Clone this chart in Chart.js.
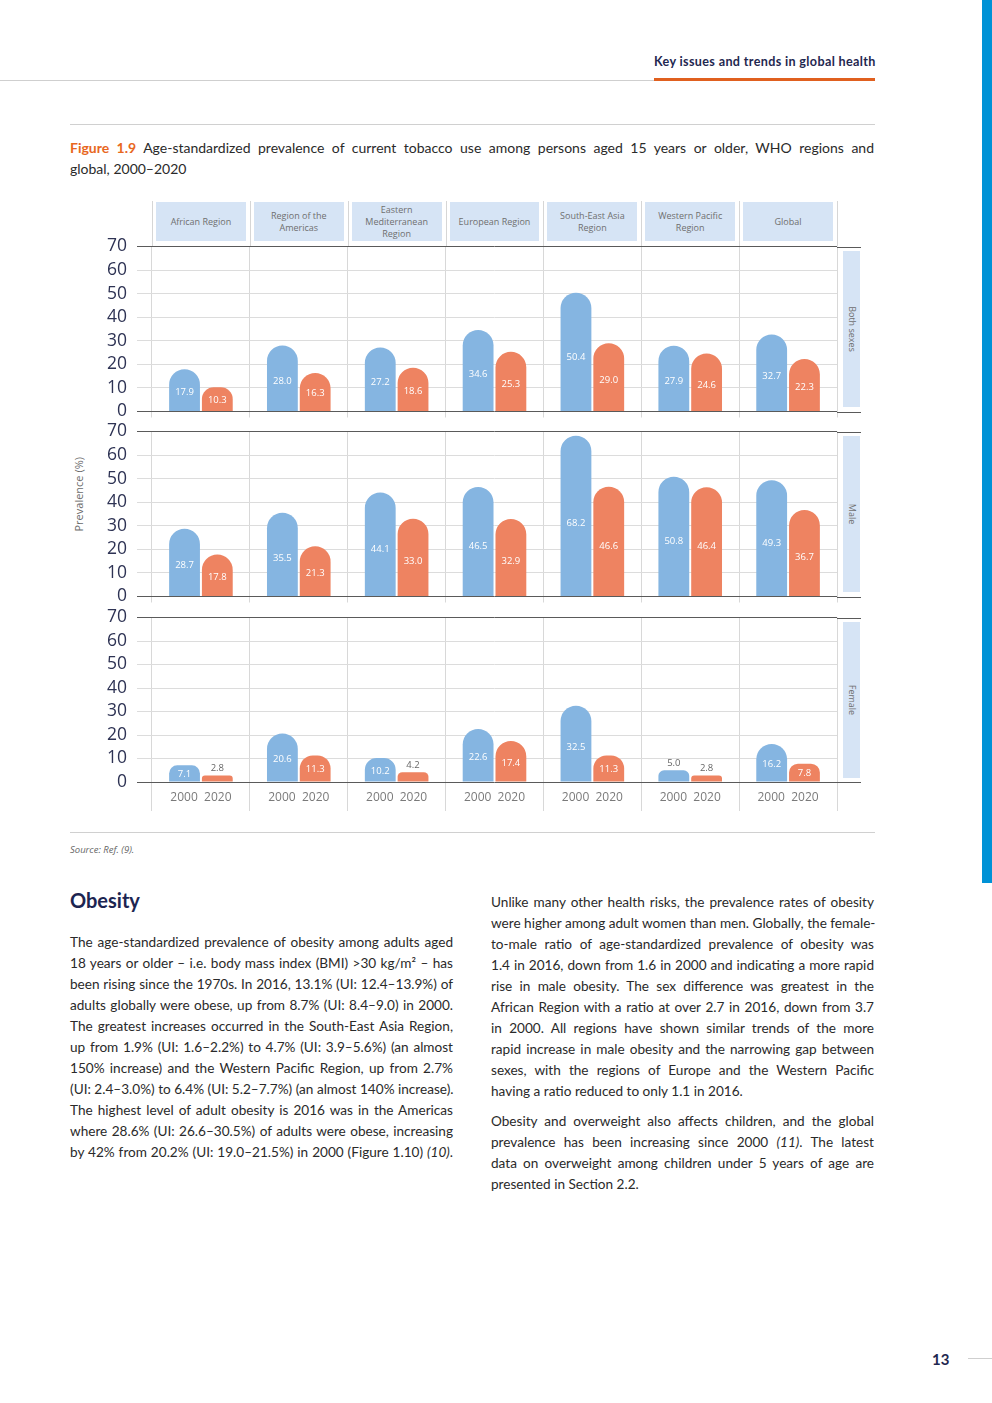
<!DOCTYPE html>
<html>
<head>
<meta charset="utf-8">
<script src="https://cdn.jsdelivr.net/npm/chart.js@4.4.1/dist/chart.umd.min.js"></script>
<style>
  body { margin: 0; background: #fff; }
  #page { position: relative; width: 992px; height: 1403px; overflow: hidden; font-family: Lato, "Open Sans", sans-serif; color: #2a2a2a; }
  .abs { position: absolute; }
  .ln { position: absolute; height: 21px; line-height: 21px; font-size: 13.6px; text-align: justify; text-align-last: justify; white-space: nowrap; }
  .ln.last { text-align-last: left; }
  .hdr { position: absolute; top: 202px; height: 39px; background: #d6e4f5; color: #6f6f6f; font: 9px "Open Sans", sans-serif; line-height: 12px; display: flex; align-items: center; justify-content: center; text-align: center; white-space: pre-line; }
  .vsep { position: absolute; top: 201px; height: 45px; width: 1px; background: #d6d6d6; }
  .strip { position: absolute; left: 843px; width: 17px; background: #d6e4f5; }
  .strip span { position: absolute; left: 50%; top: 50%; transform: translate(-50%, -50%) rotate(90deg); white-space: nowrap; font: 9px "Open Sans", sans-serif; color: #6f6f6f; }
  canvas { position: absolute; }
</style>
</head>
<body>
<div id="page">
  <div class="abs" style="right:0;top:0;width:10px;height:883px;background:#0092d6;"></div>
  <div class="abs" style="left:0;top:80px;width:654px;height:1px;background:#cfcfcf;"></div>
  <div class="abs" style="left:654px;top:54px;width:221px;font:bold 12.6px Lato, sans-serif;letter-spacing:0.35px;color:#1f2850;white-space:nowrap;">Key issues and trends in global health</div>
  <div class="abs" style="left:654px;top:78px;width:221px;height:3px;background:#e0601f;"></div>
  <div class="abs" style="left:70px;top:124px;width:805px;height:1px;background:#d0d0d0;"></div>

  <div class="ln" style="left:70px;top:137px;width:804px;font-size:14px;"><b style="color:#e8671e;">Figure 1.9</b> Age-standardized prevalence of current tobacco use among persons aged 15 years or older, WHO regions and</div>
  <div class="ln last" style="left:70px;top:158px;width:804px;font-size:14px;">global, 2000–2020</div>

  <div class="abs" style="left:48px;top:494px;width:60px;text-align:center;transform:rotate(-90deg);transform-origin:center;font:11px 'Open Sans', sans-serif;color:#6a6a6a;white-space:nowrap;">Prevalence (%)</div>

  <div id="figure"></div>

  <div class="abs" style="left:70px;top:832px;width:805px;height:1px;background:#d0d0d0;"></div>
  <div class="abs" style="left:70px;top:843px;font:italic 9.5px 'Open Sans', sans-serif;color:#666;">Source: Ref. (9).</div>

  <div class="abs" style="left:70px;top:888px;font:bold 20px Lato, sans-serif;color:#1c2551;">Obesity</div>
  <div id="textLeft"></div>
  <div id="textRight"></div>

  <div class="abs" style="left:932px;top:1350px;font:bold 15px Lato, sans-serif;color:#1f2850;">13</div>
  <div class="abs" style="left:968px;top:1358px;width:24px;height:1px;background:#cfcfcf;"></div>
</div>

<script>
// --- Données ---
const regions = ['African Region', 'Region of the\nAmericas', 'Eastern\nMediterranean\nRegion', 'European Region', 'South-East Asia\nRegion', 'Western Pacific\nRegion', 'Global'];
const years = ['2000', '2020'];
const panelNames = ['Both sexes', 'Male', 'Female'];

const bothSexes2000 = [17.9, 28.0, 27.2, 34.6, 50.4, 27.9, 32.7];
const bothSexes2020 = [10.3, 16.3, 18.6, 25.3, 29.0, 24.6, 22.3];
const male2000 = [28.7, 35.5, 44.1, 46.5, 68.2, 50.8, 49.3];
const male2020 = [17.8, 21.3, 33.0, 32.9, 46.6, 46.4, 36.7];
const female2000 = [7.1, 20.6, 10.2, 22.6, 32.5, 5.0, 16.2];
const female2020 = [2.8, 11.3, 4.2, 17.4, 11.3, 2.8, 7.8];

const yTicks = [0, 10, 20, 30, 40, 50, 60, 70];

const seriesByPanel = [
    [bothSexes2000, bothSexes2020],
    [male2000, male2020],
    [female2000, female2020]
];

// --- Mise en page ---
const plotLeft = 152, plotRight = 837;
const canvasLeft = 80, canvasWidth = 790;
const panelTops = [246, 431, 617];
const panelHeight = 165;
const colWidth = (plotRight - plotLeft) / regions.length;
const blue = '#85b5e1', orange = '#ee8361';

const figure = document.getElementById('figure');

// en-têtes des régions
regions.forEach((name, i) => {
    const x0 = plotLeft + i * colWidth;
    const box = document.createElement('div');
    box.className = 'hdr';
    box.style.left = (x0 + 4) + 'px';
    box.style.width = (colWidth - 8) + 'px';
    box.textContent = name;
    figure.appendChild(box);
});
for (let i = 0; i <= regions.length; i++) {
    const s = document.createElement('div');
    s.className = 'vsep';
    s.style.left = Math.round(plotLeft + i * colWidth) + 'px';
    figure.appendChild(s);
}

// bandeaux de droite
panelNames.forEach((name, p) => {
    const strip = document.createElement('div');
    strip.className = 'strip';
    strip.style.top = (panelTops[p] + 5) + 'px';
    strip.style.height = (panelHeight - 9) + 'px';
    strip.innerHTML = '<span>' + name + '</span>';
    figure.appendChild(strip);
});

const valueLabels = {
    id: 'valueLabels',
    afterDatasetsDraw(chart) {
        const ctx = chart.ctx;
        ctx.save();
        ctx.font = '9.5px "Open Sans"';
        ctx.textAlign = 'center';
        ctx.textBaseline = 'middle';
        chart.data.datasets.forEach((ds, di) => {
            chart.getDatasetMeta(di).data.forEach((bar, i) => {
                const v = ds.data[i];
                const h = bar.base - bar.y;
                if (v >= 6) {
                    ctx.fillStyle = '#ffffff';
                    ctx.fillText(v.toFixed(1), bar.x, bar.base - h * 0.455);
                } else {
                    ctx.fillStyle = '#666666';
                    ctx.fillText(v.toFixed(1), bar.x, bar.y - 7);
                }
            });
        });
        ctx.restore();
    }
};

const frameLines = {
    id: 'frameLines',
    afterDraw(chart) {
        const { ctx, chartArea, scales } = chart;
        ctx.save();
        ctx.strokeStyle = '#5a5a5a';
        ctx.lineWidth = 1;
        [yTicks[0], yTicks[yTicks.length - 1]].forEach(v => {
            const py = Math.round(scales.y.getPixelForValue(v)) + 0.5;
            ctx.beginPath();
            ctx.moveTo(chartArea.right, py);
            ctx.lineTo(chartArea.right + 24, py);
            ctx.stroke();
        });
        ctx.restore();
    }
};

function buildConfig(series, isLast, xHeight) {
    return {
        type: 'bar',
        data: {
            labels: regions.map(() => years.join('  ')),
            datasets: [
                { label: years[0], data: series[0], backgroundColor: blue },
                { label: years[1], data: series[1], backgroundColor: orange }
            ]
        },
        options: {
            responsive: false,
            maintainAspectRatio: false,
            animation: false,
            layout: { padding: { top: 12, right: canvasLeft + canvasWidth - plotRight, bottom: 2, left: 0 } },
            datasets: {
                bar: {
                    categoryPercentage: 0.67,
                    barPercentage: 0.94,
                    borderRadius: 16,
                    borderSkipped: 'start'
                }
            },
            plugins: {
                legend: { display: false },
                tooltip: { enabled: false }
            },
            scales: {
                x: {
                    offset: true,
                    grid: { offset: true, color: '#d8d8d8', tickLength: xHeight, drawTicks: true },
                    border: { display: false },
                    ticks: {
                        display: isLast,
                        padding: -21,
                        color: '#7a7a7a',
                        font: { family: 'Open Sans', size: 12 }
                    },
                    afterFit(scale) { scale.height = xHeight; }
                },
                y: {
                    min: yTicks[0],
                    max: yTicks[yTicks.length - 1],
                    afterBuildTicks(scale) { scale.ticks = yTicks.map(v => ({ value: v })); },
                    grid: {
                        tickLength: 15,
                        color: ctx => (ctx.tick && (ctx.tick.value === yTicks[0] || ctx.tick.value === yTicks[yTicks.length - 1])) ? '#5a5a5a' : '#dcdcdc'
                    },
                    border: { display: false },
                    ticks: {
                        autoSkip: false,
                        padding: 10,
                        color: '#2e3354',
                        font: { family: 'Open Sans', size: 17.5 }
                    },
                    afterFit(scale) { scale.width = plotLeft - canvasLeft; }
                }
            }
        },
        plugins: [valueLabels, frameLines]
    };
}

seriesByPanel.forEach((series, p) => {
    const isLast = p === seriesByPanel.length - 1;
    const xHeight = isLast ? 29 : 6;
    let h = panelHeight + 12 + xHeight + 2;

    const canvas = document.createElement('canvas');
    figure.appendChild(canvas);
    const setSize = () => {
        canvas.width = canvasWidth;
        canvas.height = h;
        canvas.style.left = canvasLeft + 'px';
        canvas.style.width = canvasWidth + 'px';
        canvas.style.height = h + 'px';
    };
    setSize();

    let chart = new Chart(canvas.getContext('2d'), buildConfig(series, isLast, xHeight));
    const missing = panelHeight - (chart.chartArea.bottom - chart.chartArea.top);
    if (Math.abs(missing) > 0.3) {
        chart.destroy();
        h += missing;
        setSize();
        chart = new Chart(canvas.getContext('2d'), buildConfig(series, isLast, xHeight));
    }
    canvas.style.top = (panelTops[p] - chart.chartArea.top) + 'px';
});

// --- Texte ---
const leftLines = [
    'The age-standardized prevalence of obesity among adults aged',
    '18 years or older – i.e. body mass index (BMI) &gt;30 kg/m² – has',
    'been rising since the 1970s. In 2016, 13.1% (UI: 12.4–13.9%) of',
    'adults globally were obese, up from 8.7% (UI: 8.4–9.0) in 2000.',
    'The greatest increases occurred in the South-East Asia Region,',
    'up from 1.9% (UI: 1.6–2.2%) to 4.7% (UI: 3.9–5.6%) (an almost',
    '150% increase) and the Western Pacific Region, up from 2.7%',
    '(UI: 2.4–3.0%) to 6.4% (UI: 5.2–7.7%) (an almost 140% increase).',
    'The highest level of adult obesity is 2016 was in the Americas',
    'where 28.6% (UI: 26.6–30.5%) of adults were obese, increasing',
    'by 42% from 20.2% (UI: 19.0–21.5%) in 2000 (Figure 1.10) <i>(10)</i>.'
];
const rightLines = [
    'Unlike many other health risks, the prevalence rates of obesity',
    'were higher among adult women than men. Globally, the female-',
    'to-male ratio of age-standardized prevalence of obesity was',
    '1.4 in 2016, down from 1.6 in 2000 and indicating a more rapid',
    'rise in male obesity. The sex difference was greatest in the',
    'African Region with a ratio at over 2.7 in 2016, down from 3.7',
    'in 2000. All regions have shown similar trends of the more',
    'rapid increase in male obesity and the narrowing gap between',
    'sexes, with the regions of Europe and the Western Pacific',
    'having a ratio reduced to only 1.1 in 2016.'
];
const rightLines2 = [
    'Obesity and overweight also affects children, and the global',
    'prevalence has been increasing since 2000 <i>(11)</i>. The latest',
    'data on overweight among children under 5 years of age are',
    'presented in Section 2.2.'
];

function writeLines(target, lines, left, top, justifyLast) {
    const el = document.getElementById(target);
    lines.forEach((txt, i) => {
        const d = document.createElement('div');
        const last = i === lines.length - 1 && !justifyLast;
        d.className = last ? 'ln last' : 'ln';
        d.style.left = left + 'px';
        d.style.top = (top + i * 21) + 'px';
        d.style.width = '383px';
        d.innerHTML = txt;
        el.appendChild(d);
    });
}
writeLines('textLeft', leftLines, 70, 931.5, true);
writeLines('textRight', rightLines, 491, 891.5, false);
writeLines('textRight', rightLines2, 491, 1110.5, false);
</script>
</body>
</html>
